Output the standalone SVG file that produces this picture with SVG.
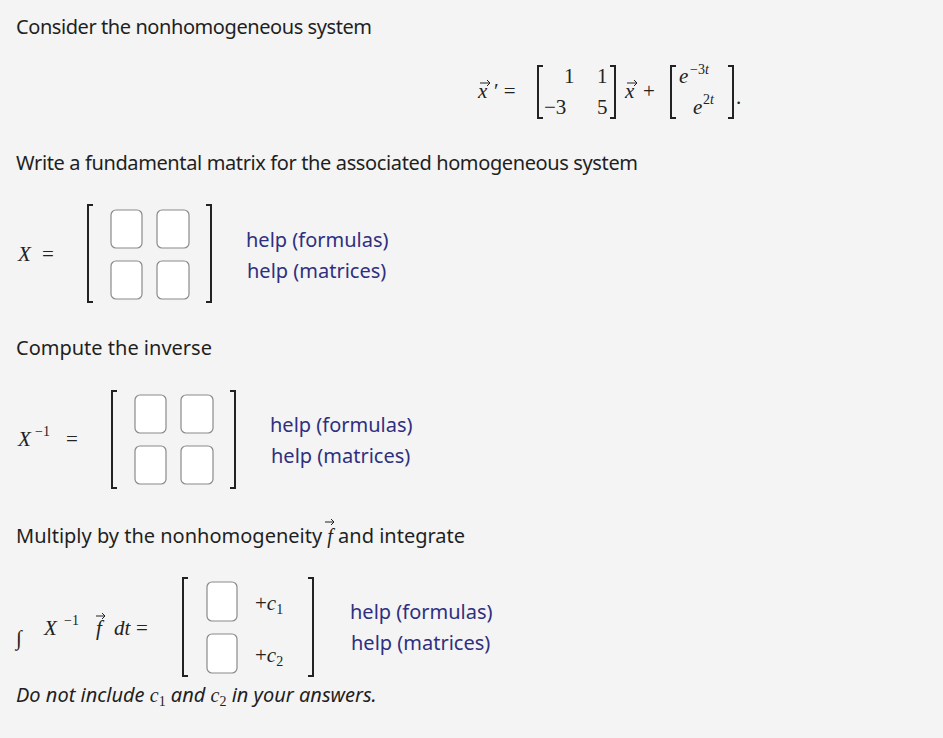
<svg xmlns="http://www.w3.org/2000/svg" width="943" height="738" viewBox="0 0 943 738">
<style>
.t{font-family:"Noto Sans","Open Sans",sans-serif;font-size:20px;fill:#1f1f1f}
.h{font-family:"Noto Sans","Open Sans",sans-serif;font-size:20px;fill:#2f2f7f}
.m{font-family:"Liberation Serif","DejaVu Serif",serif;font-size:21px;fill:#222}
.mi{font-family:"Liberation Serif","DejaVu Serif",serif;font-size:21px;font-style:italic;fill:#222}
.s{font-family:"Liberation Serif","DejaVu Serif",serif;font-size:14px;fill:#222}
.br{fill:none;stroke:#222;stroke-width:2}
.box{fill:#fff;stroke:#8a8a8a;stroke-width:1.2}
</style>
<rect width="943" height="738" fill="#f4f4f4"/>
<g id="intro">
<text class="t" x="16" y="34" textLength="356">Consider the nonhomogeneous system</text>
</g>
<g id="equation">
<text class="mi" x="478" y="98">x</text><path d="M480 83h10m-3-3l3 3-3 3" fill="none" stroke="#222" stroke-width="1"/>
<text class="m" x="494" y="98">′ =</text>
<path class="br" d="M543 66h-5v52h5M610 66h5v52h-5"/>
<text class="m" x="564" y="83">1</text><text class="m" x="597" y="83">1</text>
<text class="m" x="544" y="114">−3</text><text class="m" x="597" y="114">5</text>
<text class="mi" x="625" y="98">x</text><path d="M627 83h10m-3-3l3 3-3 3" fill="none" stroke="#222" stroke-width="1"/>
<text class="m" x="643" y="98">+</text>
<path class="br" d="M676 66h-5v52h5M728 66h5v52h-5"/>
<text class="mi" x="679" y="83">e</text><text class="s" x="690" y="74">−3<tspan font-style="italic">t</tspan></text>
<text class="mi" x="693" y="114">e</text><text class="s" x="703" y="104">2<tspan font-style="italic">t</tspan></text>
<text class="m" x="736" y="104">.</text>
</g>
<g id="q1">
<text class="t" x="16" y="170" textLength="622">Write a fundamental matrix for the associated homogeneous system</text>
<text class="mi" x="18" y="261">X</text><text class="m" x="42" y="261">=</text>
<path class="br" d="M93 205h-5v97h5M206 205h5v97h-5"/>
<rect class="box" x="111" y="210" width="31" height="38" rx="5"/>
<rect class="box" x="157" y="210" width="32" height="38" rx="5"/>
<rect class="box" x="111" y="261" width="31" height="38" rx="5"/>
<rect class="box" x="157" y="261" width="32" height="38" rx="5"/>
<text class="h" x="246" y="247">help (formulas)</text>
<text class="h" x="247" y="278">help (matrices)</text>
</g>
<g id="q2">
<text class="t" x="16" y="355">Compute the inverse</text>
<text class="mi" x="18" y="446">X</text><text class="s" x="35" y="436">−1</text><text class="m" x="66" y="446">=</text>
<path class="br" d="M117 391h-5v97h5M230 391h5v97h-5"/>
<rect class="box" x="135" y="395" width="31" height="38" rx="5"/>
<rect class="box" x="181" y="395" width="32" height="38" rx="5"/>
<rect class="box" x="135" y="446" width="31" height="38" rx="5"/>
<rect class="box" x="181" y="446" width="32" height="38" rx="5"/>
<text class="h" x="270" y="432">help (formulas)</text>
<text class="h" x="271" y="463">help (matrices)</text>
</g>
<g id="q3">
<text class="t" x="16" y="543">Multiply by the nonhomogeneity <tspan font-family="Liberation Serif" font-style="italic">f</tspan> and integrate</text>
<path d="M325 522h9m-3-3l3 3-3 3" fill="none" stroke="#222" stroke-width="1"/>
<text class="mi" x="16" y="645" font-size="30">∫</text>
<text class="mi" x="44" y="635">X</text><text class="s" x="64" y="625">−1</text>
<text class="mi" x="96" y="635">f</text><path d="M96 616h9m-3-3l3 3-3 3" fill="none" stroke="#222" stroke-width="1"/>
<text class="mi" x="114" y="635">dt</text><text class="m" x="136" y="635">=</text>
<path class="br" d="M188 578h-5v98h5M308 578h5v98h-5"/>
<rect class="box" x="207" y="582" width="30" height="39" rx="5"/>
<rect class="box" x="207" y="634" width="30" height="39" rx="5"/>
<text class="m" x="255" y="610">+<tspan font-style="italic">c</tspan><tspan font-size="14" dy="4">1</tspan></text>
<text class="m" x="255" y="662">+<tspan font-style="italic">c</tspan><tspan font-size="14" dy="4">2</tspan></text>
<text class="h" x="350" y="619">help (formulas)</text>
<text class="h" x="351" y="650">help (matrices)</text>
<text class="t" x="16" y="702" font-style="italic">Do not include <tspan font-family="Liberation Serif">c</tspan><tspan font-family="Liberation Serif" font-size="14" dy="4" font-style="normal">1</tspan><tspan dy="-4"> and </tspan><tspan font-family="Liberation Serif">c</tspan><tspan font-family="Liberation Serif" font-size="14" dy="4" font-style="normal">2</tspan><tspan dy="-4"> in your answers.</tspan></text>
</g>
</svg>
